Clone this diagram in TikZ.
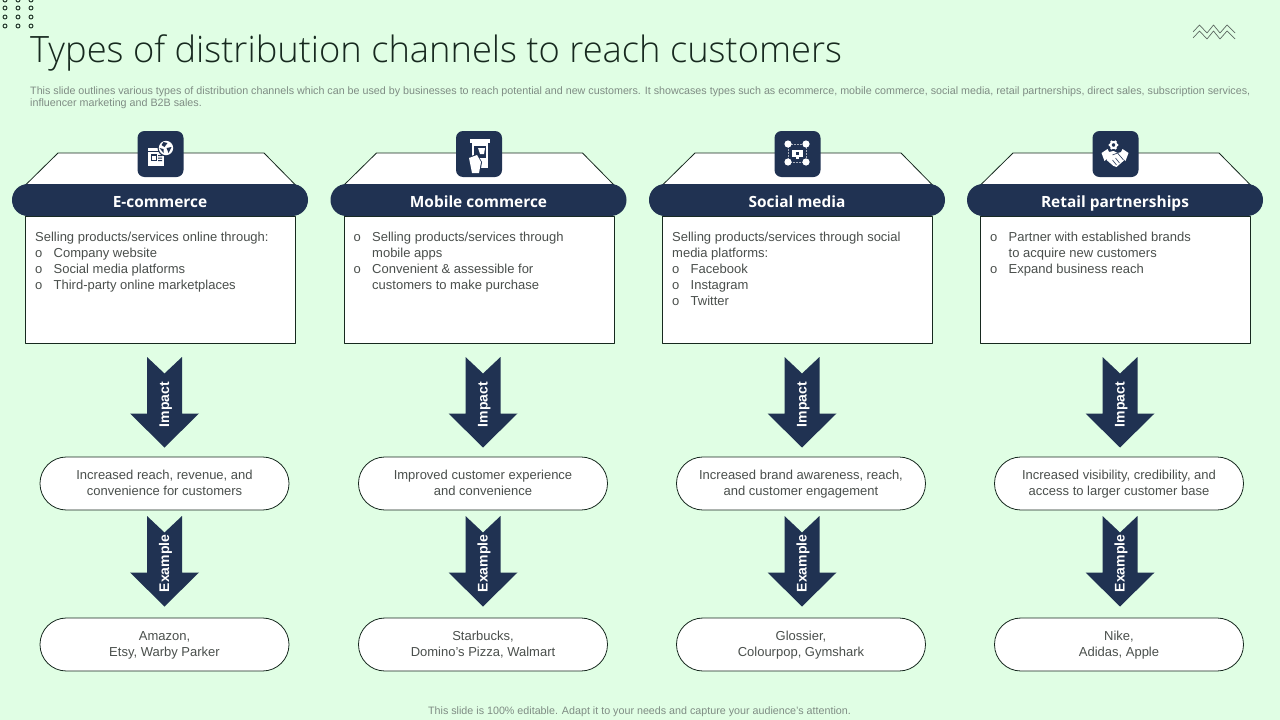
\documentclass[tikz,border=0pt]{standalone}
\usepackage{fontspec}
\setmainfont{Liberation Sans}
\newfontfamily\titlefont{Open Sans Light}
\newfontfamily\headfont{Open Sans}
\definecolor{bgmint}{HTML}{E0FEE4}
\definecolor{navy}{HTML}{203252}
\definecolor{inkdark}{HTML}{17291F}
\definecolor{bodygray}{HTML}{4A4F4C}
\definecolor{notegray}{HTML}{7F8C84}
\tikzset{
	basebox/.style={draw=inkdark,fill=white,line width=0.8pt},
	headpill/.style={fill=navy,text=white,rounded corners=15.9pt,minimum width=296pt,minimum height=32pt,inner sep=0pt,text height=14pt,text depth=0pt,font=\headfont\bfseries\fontsize{15.45}{18}\selectfont},
	iconbox/.style={fill=navy,rounded corners=7pt,minimum size=46pt,inner sep=0pt},
	bodytext/.style={anchor=north west,inner sep=0pt,align=left,text=bodygray,font=\fontsize{13}{16}\selectfont},
	pilltext/.style={basebox,rounded corners=26.4pt,minimum width=249pt,minimum height=53pt,inner sep=0pt,align=center,text=bodygray,text height=24pt,text depth=0pt,font=\fontsize{13}{16}\selectfont},
	arrowtext/.style={rotate=90,text=white,inner sep=0pt,text height=10pt,text depth=0pt,font=\bfseries\fontsize{14}{16}\selectfont},
	whiteicon/.style={fill=white,draw=none},
}
\newcommand{\bl}{\makebox[18.5pt][l]{o}}
\newcommand{\nb}{\hspace*{18.5pt}}
% block arrow: name, centre x, top y, label
\newcommand{\blockarrow}[4]{%
	\fill[navy] (#2-17.5,#3) -- (#2,#3+16.5) -- (#2+17.5,#3) -- (#2+17.5,#3+56.5) -- (#2+34.5,#3+56.5)
		-- (#2,#3+90.5) -- (#2-34.5,#3+56.5) -- (#2-17.5,#3+56.5) -- cycle;
	\node[arrowtext] (#1) at (#2-0.5,#3+47.5) {#4};
}
\begin{document}
\begin{tikzpicture}[x=1pt,y=-1pt,line join=round]
	\useasboundingbox[fill=bgmint] (0,0) rectangle (1280,720);
	% corner dots
	\foreach \x in {5,18,31}
		\foreach \y in {0,8,17,26}
			\draw[inkdark,line width=0.9pt] (\x,\y) circle (2);
	% zigzag
	\foreach \y in {0,6}
		\draw[inkdark!70,line width=0.7pt] (1193,32+\y) -- (1199.5,25+\y) -- (1207,33+\y) -- (1213.5,25+\y) -- (1220,33+\y) -- (1227,25+\y) -- (1235,33+\y);
	\node[anchor=base west,inner sep=0pt,text=inkdark,font=\titlefont\fontsize{36.3}{40}\selectfont] (title) at (30,62) {Types of distribution channels to reach customers};
	\node[anchor=north west,inner sep=0pt,align=left,text=notegray,font=\fontsize{10.72}{12}\selectfont] (intro) at (30,87)
		{This slide outlines various types of distribution channels which can be used by businesses to reach potential and new customers. It showcases types such as ecommerce, mobile commerce, social media, retail partnerships, direct sales, subscription services,\\influencer marketing and B2B sales.};
	% the four columns
	\foreach \i/\xa/\xb/\xc/\hd/\body/\imp/\ex in {
		1/160.5/164.5/164.5/E-commerce/{Selling products/services online through:\\\bl Company website\\\bl Social media platforms\\\bl Third-party online marketplaces}/{Increased reach, revenue, and\\convenience for customers}/{Amazon,\\Etsy, Warby Parker},
		2/479/483/483/Mobile commerce/{\bl Selling products/services through\\\nb mobile apps\\\bl Convenient \& assessible for\\\nb customers to make purchase}/{Improved customer experience\\and convenience}/{Starbucks,\\Domino's Pizza, Walmart},
		3/797.5/801/802/Social media/{Selling products/services through social\\media platforms:\\\bl Facebook\\\bl Instagram\\\bl Twitter}/{Increased brand awareness, reach,\\and customer engagement}/{Glossier,\\Colourpop, Gymshark},
		4/1115.5/1119/1120/Retail partnerships/{\bl Partner with established brands\\\nb to acquire new customers\\\bl Expand business reach}/{Increased visibility, credibility, and\\access to larger customer base}/{Nike,\\Adidas, Apple}}{
		\draw[basebox] (\xa-135,216) rectangle (\xa+135,343.5);
		\draw[basebox] (\xa-135,185) -- (\xa-102.5,153) -- (\xa+103.5,153) -- (\xa+135,185) -- cycle;
		\node[headpill] (head\i) at (\xa-0.5,200) {\hd};
		\node[iconbox] (icon\i) at (\xa,154) {};
		\node[bodytext] (text\i) at (\xa-125.5,231.5) {\body};
		\blockarrow{impactlbl\i}{\xc}{357}{Impact}
		\blockarrow{examplelbl\i}{\xc}{516}{Example}
		\node[pilltext] (impact\i) at (\xb,483.5) {\imp};
		\node[pilltext] (example\i) at (\xb,644.5) {\ex};
	}
	% icon e-commerce
	\begin{scope}[shift={(160.5,154)}]
		\fill[whiteicon] (-12.5,-6) rectangle (3.5,12);
		\fill[navy] (-12.5,-3.5) rectangle (3.5,-2);
		\fill[navy] (-10,0) rectangle (-4,7);
		\fill[whiteicon] (-9,1.5) rectangle (-5,5.5);
		\fill[navy] (-2.5,1) rectangle (1.5,2) (-2.5,3.5) rectangle (1.5,4.5) (-2.5,6) rectangle (1.5,7);
		\fill[navy] (5.5,-6) circle (8.5);
		\fill[whiteicon] (5.5,-6) circle (7.2);
		\fill[navy] (3,-12) -- (7,-11) -- (4,-7) -- (1,-9) -- cycle (6,-6) -- (11,-7) -- (8,-1) -- cycle (-1,-6) -- (3,-5) -- (3,-1) -- cycle;
	\end{scope}
	% icon mobile commerce
	\begin{scope}[shift={(479,154)}]
		\fill[whiteicon] (-9,-15) rectangle (11,-11);
		\fill[whiteicon] (-7,-11) rectangle (9,14);
		\fill[navy] (-5,-8) rectangle (7,4);
		\fill[whiteicon] (-1,-6) -- (6,-6) -- (5,0) -- (1,0) -- cycle;
		\fill[navy] (-11,3) -- (-2,0) -- (3,8) -- (1,20) -- (-8,20) -- cycle;
		\fill[whiteicon] (-10,4) -- (-2,1) -- (2,8) -- (0,19) -- (-7,19) -- cycle;
	\end{scope}
	% icon social media
	\begin{scope}[shift={(797,153)}]
		\draw[white!60!navy,densely dotted,line width=0.5pt] (-9,-9) rectangle (9,9);
		\foreach \px/\py in {-9/-9,9/-9,-9/9,9/9}
			\fill[whiteicon] (\px,\py) circle (3.6);
		\fill[whiteicon] (-5.5,-3) rectangle (5.5,3.5);
		\fill[navy] (-1.5,-1.5) rectangle (1.5,2);
		\fill[whiteicon] (-1.5,3.5) rectangle (1.5,5.5);
	\end{scope}
	% icon retail partnerships
	\begin{scope}[shift={(1115.5,154)}]
		\draw[white,line width=2pt] (-2,-9) circle (3);
		\foreach \a in {0,60,...,300}
			\fill[whiteicon] (-2,-9) ++(\a:3.8) circle (1.4);
		\fill[whiteicon] (-14,-1) -- (-8,-5) -- (-5,1) -- (-11,7) -- cycle (13,-1) -- (7,-5) -- (4,1) -- (10,7) -- cycle;
		\fill[whiteicon] (-7,-2) -- (-2,-3) -- (2,-1) -- (6,-2) -- (9,6) -- (1,13) -- (-2,12) -- (-9,6) -- cycle;
		\draw[navy,line width=0.6pt] (-3,1) -- (2,-1) -- (8,6) (0,4) -- (4,9) (-3,6) -- (1,11);
	\end{scope}
	\node[anchor=base,inner sep=0pt,text=notegray,font=\fontsize{10.72}{12}\selectfont] (footer) at (639.5,714) {This slide is 100\% editable. Adapt it to your needs and capture your audience's attention.};
\end{tikzpicture}
\end{document}
